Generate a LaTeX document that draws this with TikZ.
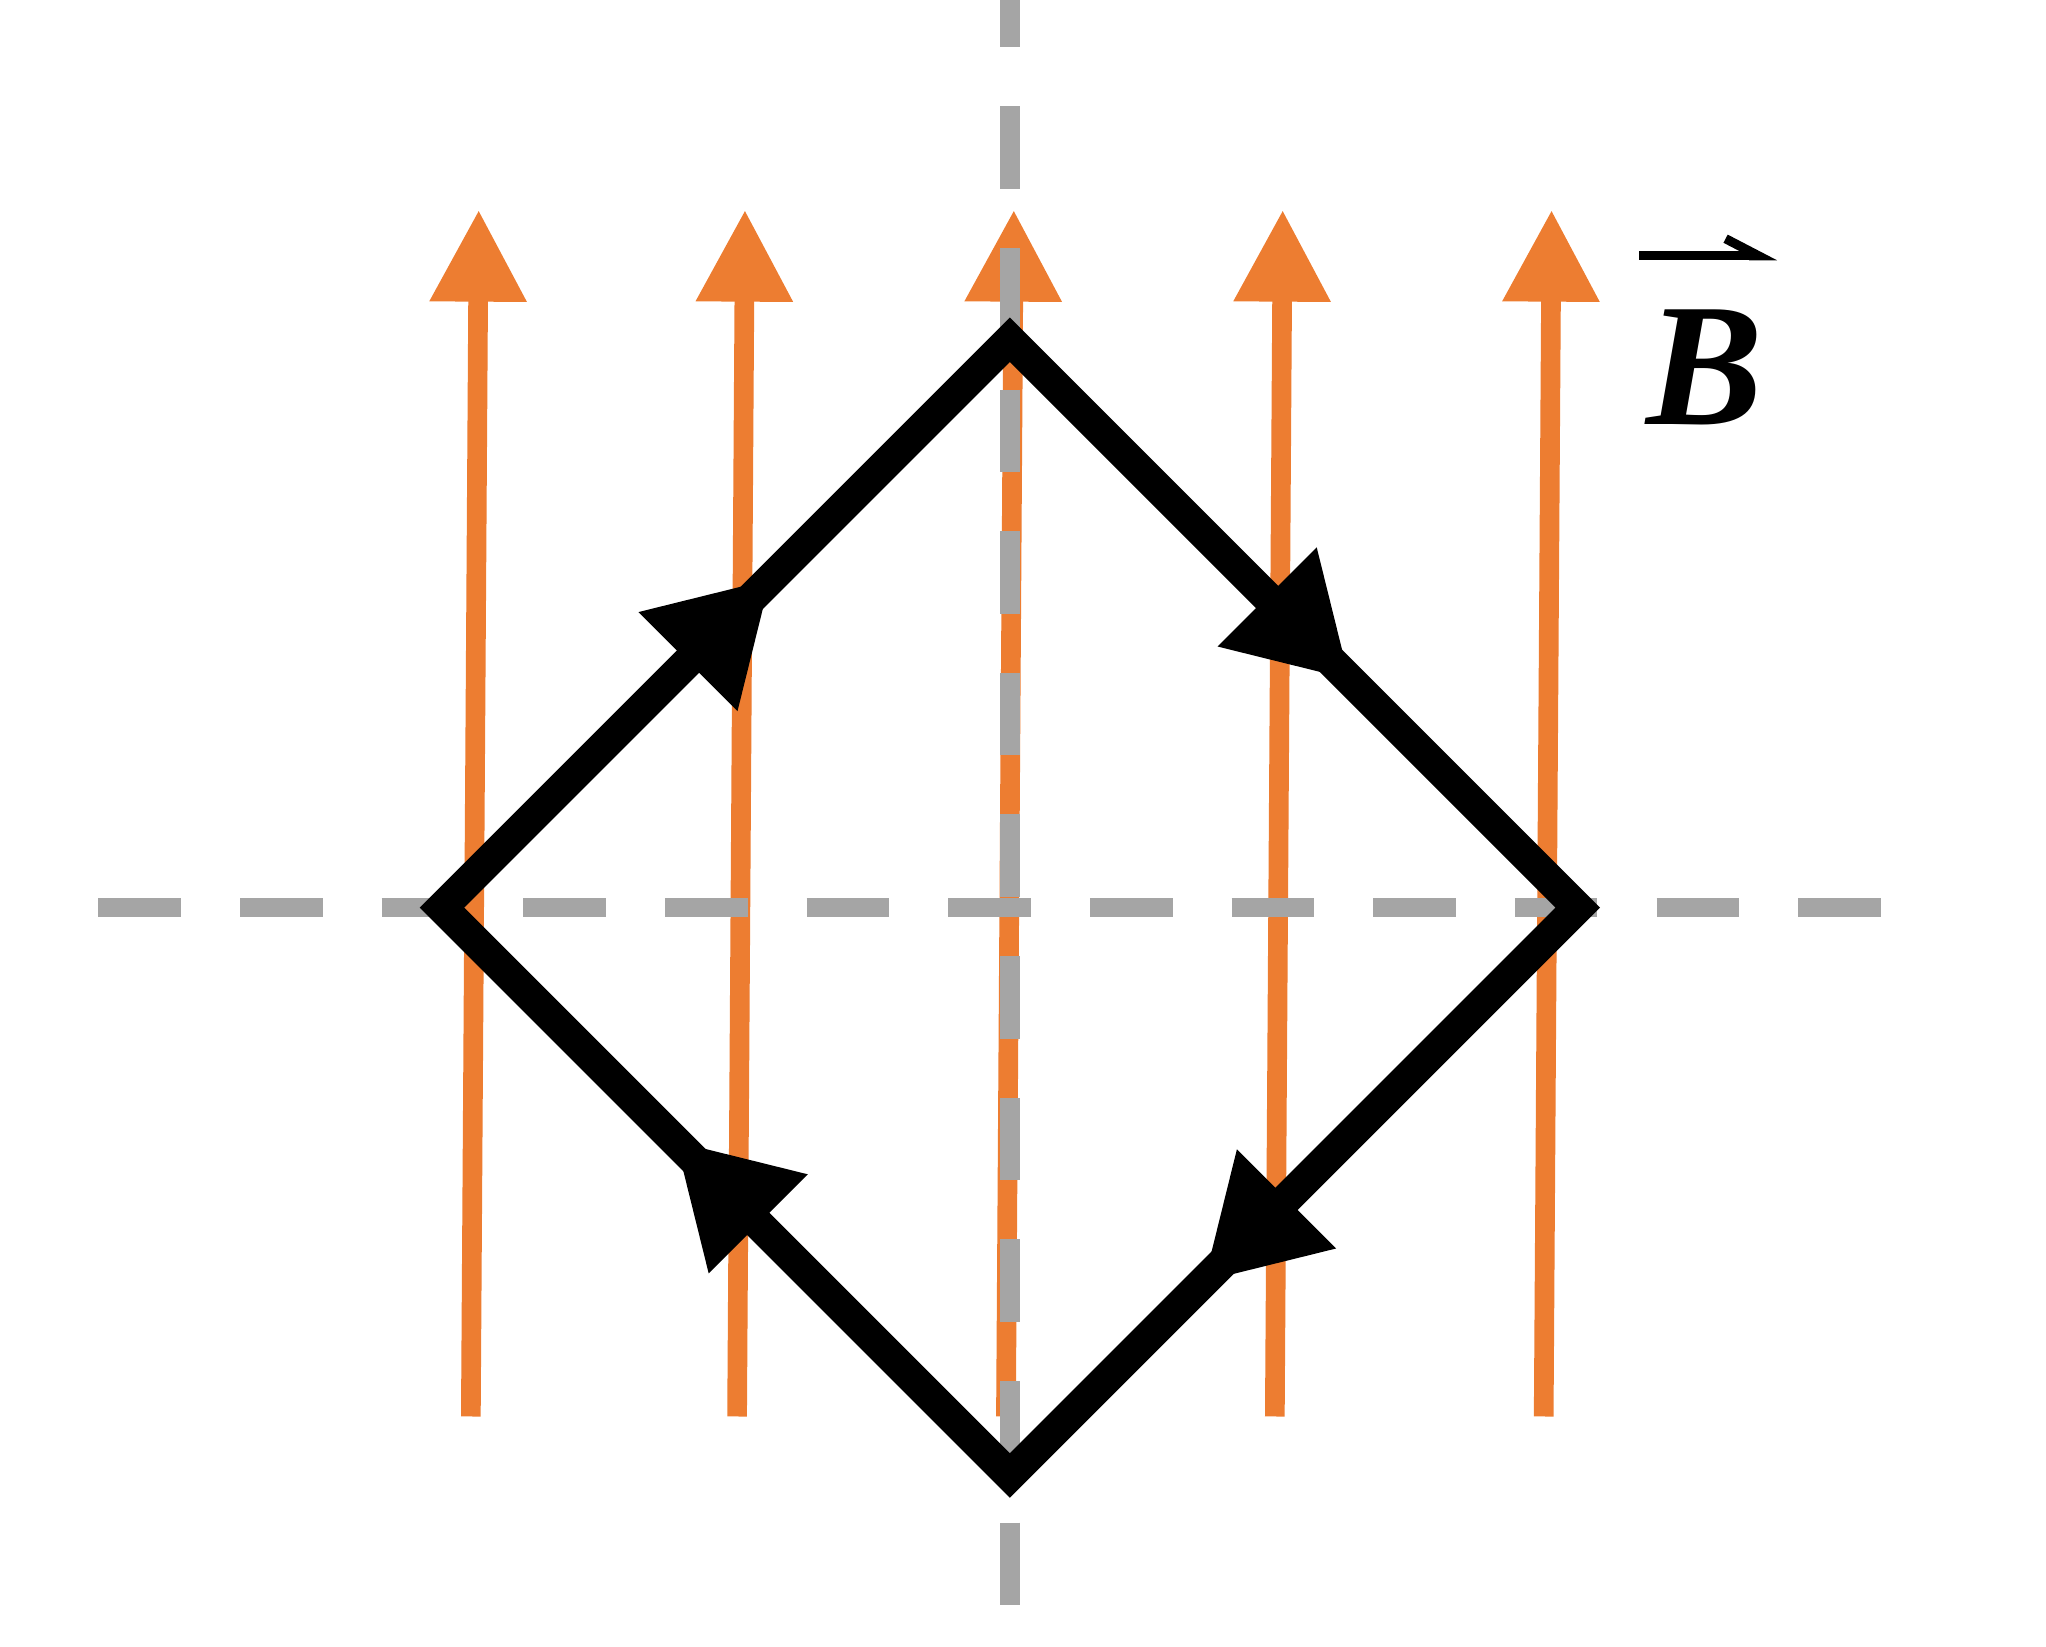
\documentclass[tikz,border=0pt]{standalone}
\usepackage{fontspec}
\setmainfont{Liberation Serif}
\usepackage{tikz}
\usetikzlibrary{arrows.meta}
\usetikzlibrary{decorations.markings}
\definecolor{fieldorange}{RGB}{237,125,49}
\definecolor{axisgray}{RGB}{165,165,165}
\tikzset{
  field/.style={fieldorange,line width=0.15cm,-{Triangle[length=0.7cm,width=0.7cm]}},
  axis/.style={axisgray,line width=0.15cm,dash pattern=on 0.63cm off 0.45cm},
  loop/.style={line width=0.24cm,postaction={decorate},decoration={markings,
    mark=at position 0.145 with {\arrow{Triangle[length=0.9cm,width=1cm]}},
    mark=at position 0.40 with {\arrow{Triangle[length=0.9cm,width=1cm]}},
    mark=at position 0.665 with {\arrow{Triangle[length=0.9cm,width=1cm]}},
    mark=at position 0.8975 with {\arrow{Triangle[length=0.9cm,width=1cm]}}}}
}
\begin{document}
\begin{tikzpicture}
            \useasboundingbox (-7.70,-5.63) rectangle (7.90,6.92);
            \coordinate (L) at (-4.33,0);
            \coordinate (T) at (0,4.33);
            \coordinate (R) at (4.33,0);
            \coordinate (D) at (0,-4.33);
            % field lines
            \foreach \x in {-4.08,-2.05,0,2.05,4.10}
                \draw[field] (\x-0.03,-3.88) -- (\x+0.03,5.32);
            \draw[axis] (-6.95,0) -- (6.70,0);
            \draw[axis,dash phase=0.27cm] (0,6.92) -- (0,-5.48);
            \draw[loop] (L) -- (T) -- (R) -- (D) -- cycle;
            \node[inner sep=0pt] (B) at (5.30,4.12) {\fontsize{38}{40}\selectfont\bfseries\itshape B};
            \coordinate (vecL) at (4.80,4.97);
            \coordinate (vecR) at (5.85,4.97);
            \draw[line width=0.07cm,-{Straight Barb[left,length=0.25cm,width=0.26cm]}] (vecL) -- (vecR);
        \end{tikzpicture}
\end{document}
